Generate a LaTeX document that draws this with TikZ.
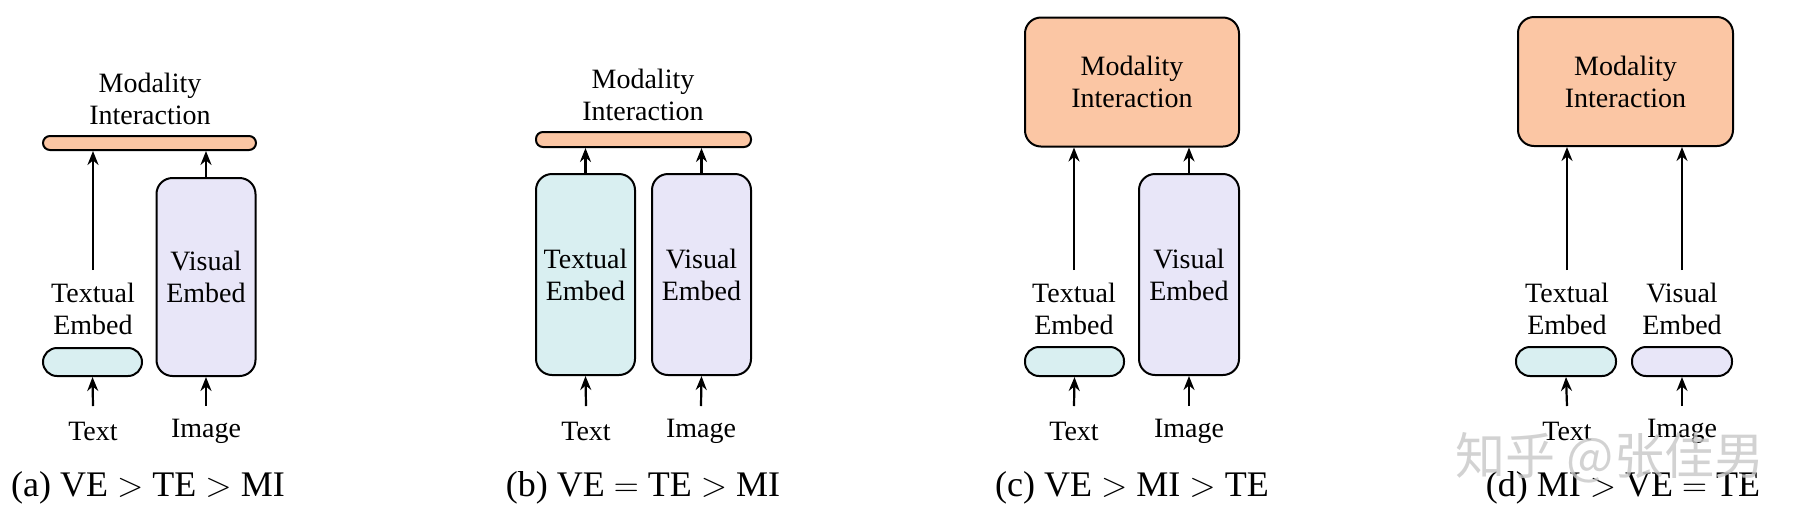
\documentclass[tikz,border=0pt]{standalone}
\usepackage{fontspec}
\setmainfont{Liberation Serif}
\newfontfamily\serf{Liberation Serif}
\newfontfamily\cjkf{Noto Sans CJK SC}
\usetikzlibrary{arrows.meta}
\definecolor{mio}{HTML}{FBC6A4}
\definecolor{tec}{HTML}{D9EFF1}
\definecolor{vel}{HTML}{E8E6F8}
\begin{document}
\begin{tikzpicture}[x=0.5pt,y=-0.5pt,
  blk/.style={draw=black,line width=1pt,rounded corners=8pt,inner sep=0pt,align=center,font=\serf\fontsize{14}{16}\selectfont},
  bar/.style={draw=black,line width=1pt,rounded corners=3.5pt,inner sep=0pt},
  sm/.style={draw=black,line width=1pt,rounded corners=7pt,inner sep=0pt},
  lbl/.style={align=center,inner sep=0pt,font=\serf\fontsize{14}{16}\selectfont},
  captxt/.style={inner sep=0pt,font=\serf\fontsize{18}{20}\selectfont},
  ar/.style={-{Stealth[length=7pt,width=5.5pt]},line width=1.1pt}]
\useasboundingbox (0,0) rectangle (1806,526);
% ---------- (a)
\node[bar,fill=mio,minimum width=106.5pt,minimum height=7pt] (aMI) at (149.5,143) {};
\node[lbl] (aMIt) at (150,99) {Modality\\Interaction};
\node[blk,fill=vel,minimum width=49.5pt,minimum height=99pt] (aVE) at (206,277) {Visual\\Embed};
\node[sm,fill=tec,minimum width=49.5pt,minimum height=14pt] (aTE) at (92.5,362) {};
\node[lbl] (aTEt) at (93,309) {Textual\\Embed};
\node[lbl] (aT) at (93,431) {Text};
\node[lbl] (aI) at (206,431) {Image};
\coordinate (aS) at (93,270);
\draw[ar] (aS) -- (aS|-aMI.south);
\draw[ar] (aVE.north) -- (aVE.north|-aMI.south);
\draw[ar] (93,406) -- (aTE.south);
\draw[ar] (206,406) -- (aVE.south);
\node[captxt] (aC) at (148,488) {(a) VE $>$ TE $>$ MI};
% ---------- (b)
\node[bar,fill=mio,minimum width=107.5pt,minimum height=7.5pt] (bMI) at (643.5,139.5) {};
\node[lbl] (bMIt) at (643,95) {Modality\\Interaction};
\node[blk,fill=tec,minimum width=49.5pt,minimum height=100.5pt] (bTE) at (585.5,274.5) {Textual\\Embed};
\node[blk,fill=vel,minimum width=49.5pt,minimum height=100.5pt] (bVE) at (701.5,274.5) {Visual\\Embed};
\node[lbl] (bT) at (586,431) {Text};
\node[lbl] (bI) at (701,431) {Image};
\draw[ar] (bTE.north) -- (bTE.north|-bMI.south);
\draw[ar] (bVE.north) -- (bVE.north|-bMI.south);
\draw[ar] (586,406) -- (bTE.south);
\draw[ar] (701,406) -- (bVE.south);
\node[captxt] (bC) at (643,488) {(b) VE $=$ TE $>$ MI};
% ---------- (c)
\node[blk,fill=mio,minimum width=107pt,minimum height=64.5pt] (cMI) at (1132,82) {Modality\\Interaction};
\node[blk,fill=vel,minimum width=50pt,minimum height=100.5pt] (cVE) at (1189,274.5) {Visual\\Embed};
\node[sm,fill=tec,minimum width=49.5pt,minimum height=14.5pt] (cTE) at (1074.5,361.5) {};
\node[lbl] (cTEt) at (1074,309) {Textual\\Embed};
\node[lbl] (cT) at (1074,431) {Text};
\node[lbl] (cI) at (1189,431) {Image};
\coordinate (cS) at (1074,270);
\draw[ar] (cS) -- (cS|-cMI.south);
\draw[ar] (cVE.north) -- (cVE.north|-cMI.south);
\draw[ar] (1074,406) -- (cTE.south);
\draw[ar] (1189,406) -- (cVE.south);
\node[captxt] (cC) at (1132,488) {(c) VE $>$ MI $>$ TE};
% ---------- (d)
\node[blk,fill=mio,minimum width=107.5pt,minimum height=64.5pt] (dMI) at (1625.5,81.5) {Modality\\Interaction};
\node[sm,fill=tec,minimum width=50pt,minimum height=14.5pt] (dTE) at (1566,361.5) {};
\node[sm,fill=vel,minimum width=50pt,minimum height=14.5pt] (dVE) at (1682,361.5) {};
\node[lbl] (dTEt) at (1567,309) {Textual\\Embed};
\node[lbl] (dVEt) at (1682,309) {Visual\\Embed};
\node[lbl] (dT) at (1567,431) {Text};
\node[lbl] (dI) at (1682,431) {Image};
\coordinate (dS1) at (1567,270);
\coordinate (dS2) at (1682,270);
\draw[ar] (dS1) -- (dS1|-dMI.south);
\draw[ar] (dS2) -- (dS2|-dMI.south);
\draw[ar] (1567,406) -- (dTE.south);
\draw[ar] (1682,406) -- (dVE.south);
\node[captxt] (dC) at (1623,488) {(d) MI $>$ VE $=$ TE};
% watermark
\node[inner sep=0pt,text=black!22,opacity=0.8,font=\cjkf\fontsize{25}{28}\selectfont] (wm) at (1610,458) {知乎 @张佳男};
\end{tikzpicture}
\end{document}
